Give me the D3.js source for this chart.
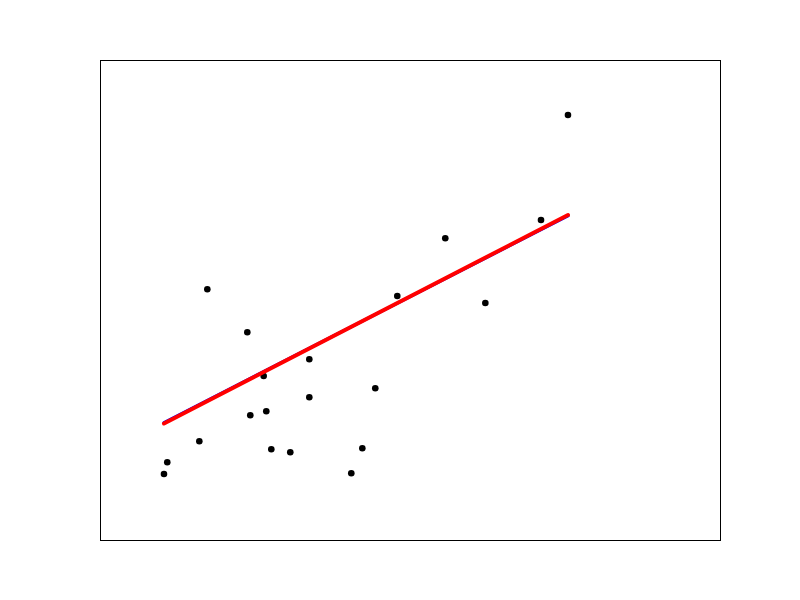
<!DOCTYPE html>
<html>
<head>
<meta charset="utf-8">
<script src="https://cdn.jsdelivr.net/npm/d3@7"></script>
<style>
  body { margin: 0; background: #fff; }
</style>
</head>
<body>
<div id="chart"></div>
<script>
// test points (arbitrary units, no ticks shown in the reference)
const xValues = [1.032, 1.085, 1.602, 1.731, 2.376, 2.424, 2.640, 2.682, 2.763, 3.069,
                 3.376, 3.376, 4.053, 4.231, 4.440, 4.795, 5.569, 6.215, 7.113, 7.548];
const yValues = [1.375, 1.619, 2.056, 5.223, 4.327, 2.598, 3.417, 2.681, 1.890, 1.827,
                 3.765, 2.973, 1.390, 1.910, 3.160, 5.083, 6.285, 4.938, 6.667, 8.854];

// fitted lines: [x, y] end points
const blueFit = [[1.032, 2.448], [7.548, 6.750]];
const redFit = [[1.032, 2.427], [7.548, 6.771]];

const width = 800;
const height = 600;
const margin = { top: 60, right: 80, bottom: 60, left: 100 };
const innerWidth = width - margin.left - margin.right;
const innerHeight = height - margin.top - margin.bottom;

const xScale = d3.scaleLinear().domain([0, 10]).range([0, innerWidth]);
const yScale = d3.scaleLinear().domain([0, 10]).range([innerHeight, 0]);

const svg = d3.select('#chart')
    .append('svg')
    .attr('width', width)
    .attr('height', height);

const g = svg.append('g')
    .attr('transform', `translate(${margin.left},${margin.top})`);

const points = xValues.map((x, i) => ({ x: x, y: yValues[i] }));

g.selectAll('.dot')
    .data(points)
    .join('circle')
    .attr('class', 'dot')
    .attr('cx', d => xScale(d.x))
    .attr('cy', d => yScale(d.y))
    .attr('r', 3.3)
    .attr('fill', 'black');

const line = d3.line()
    .x(d => xScale(d[0]))
    .y(d => yScale(d[1]));

g.append('path')
    .attr('d', line(blueFit))
    .attr('fill', 'none')
    .attr('stroke', 'blue')
    .attr('stroke-width', 3)
    .attr('stroke-linecap', 'round');

g.append('path')
    .attr('d', line(redFit))
    .attr('fill', 'none')
    .attr('stroke', 'red')
    .attr('stroke-width', 4)
    .attr('stroke-linecap', 'round');

// axes frame without ticks
g.append('rect')
    .attr('x', 0)
    .attr('y', 0)
    .attr('width', innerWidth)
    .attr('height', innerHeight)
    .attr('fill', 'none')
    .attr('stroke', 'black')
    .attr('stroke-width', 1)
    .attr('shape-rendering', 'crispEdges');
</script>
</body>
</html>
